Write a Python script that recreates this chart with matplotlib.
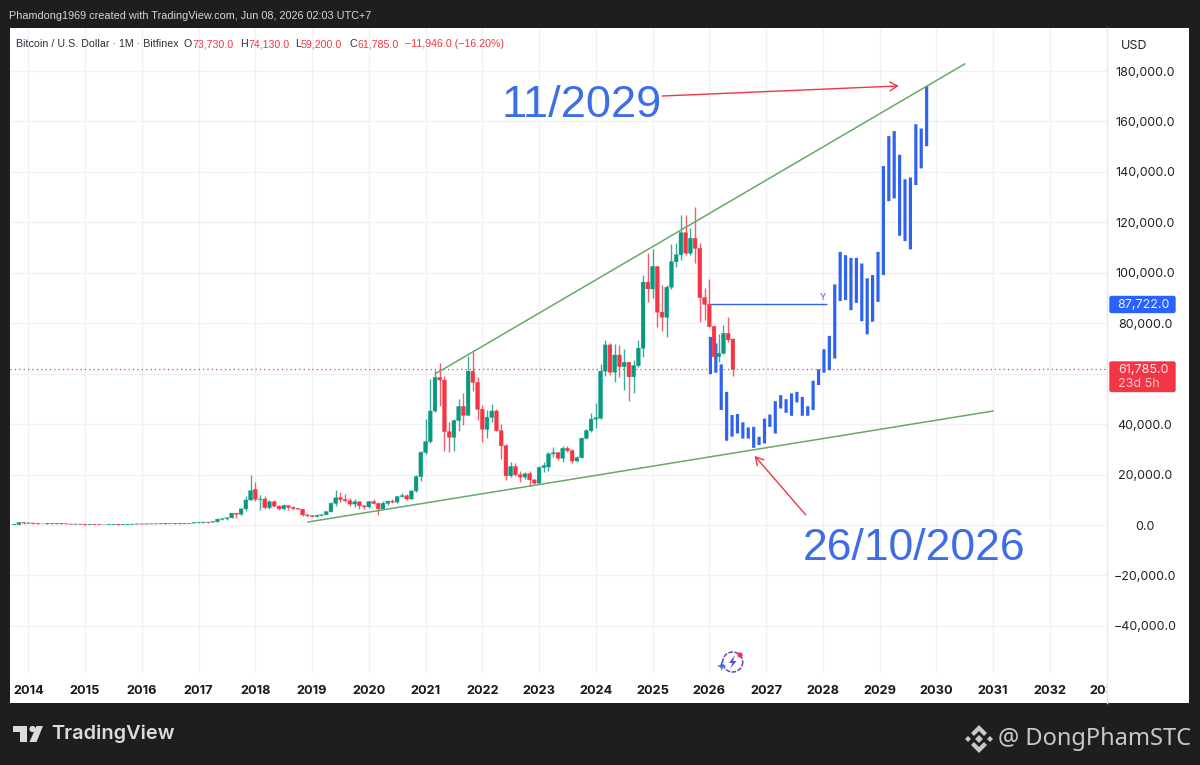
import numpy as np
import matplotlib
matplotlib.use('Agg')
import matplotlib.pyplot as plt
from matplotlib.patches import Rectangle, Polygon, Circle, FancyBboxPatch, Arc
from matplotlib.ticker import FuncFormatter
from matplotlib.transforms import Bbox

plt.rcParams['font.family'] = ['Inter', 'DejaVu Sans']

# monthly candles in thousands of USD, first one is Oct 2013
opens = [0.13, 0.2, 1.0,
    0.75, 0.8, 0.55, 0.45, 0.45, 0.63, 0.64, 0.59, 0.48, 0.39, 0.34, 0.38,
    0.32, 0.22, 0.25, 0.24, 0.23, 0.23, 0.26, 0.28, 0.23, 0.24, 0.31, 0.38,
    0.43, 0.37, 0.44, 0.42, 0.45, 0.53, 0.67, 0.62, 0.57, 0.61, 0.70, 0.74,
    0.96, 0.97, 1.19, 1.08, 1.35, 2.3, 2.5, 2.87, 4.7, 4.3, 6.4, 9.9,
    14.1, 10.2, 10.3, 6.9, 9.2, 7.5, 6.4, 7.7, 7.0, 6.6, 6.3, 4.0,
    3.7, 3.4, 3.8, 4.1, 5.3, 8.6, 10.8, 10.1, 9.6, 8.3, 9.2, 7.6,
    7.2, 9.3, 8.5, 6.4, 8.6, 9.4, 9.1, 11.3, 11.6, 10.3, 13.5, 19.2,
    28.8, 33.1, 45.2, 58.5, 57.5, 37, 34.8, 41.4, 47, 43.5, 61, 56.6,
    45.9, 38, 42.7, 45.2, 37.4, 31.4, 19.5, 23.2, 19.9, 19, 20.3, 17.9,
    16.6, 22.8, 23, 28.2, 28.7, 26.5, 30.4, 29.5, 25.4, 26.7, 34.4, 37.4,
    42, 42.3, 61, 71.4, 60.6, 67.4, 62.8, 64.5, 58.8, 63.2, 70.1, 96.3,
    93.6, 102.5, 84.4, 82.4, 94.3, 104.4, 107.1, 115.9, 107.8, 113.7, 109.7, 90.2,
    87.5, 78.7, 66.8, 68.1, 76, 73.7]
highs = [0.2, 1.2, 1.2,
    1.0, 0.85, 0.7, 0.55, 0.65, 0.68, 0.66, 0.6, 0.49, 0.42, 0.45, 0.39,
    0.33, 0.26, 0.3, 0.26, 0.25, 0.27, 0.32, 0.29, 0.24, 0.33, 0.5, 0.47,
    0.46, 0.44, 0.45, 0.47, 0.55, 0.78, 0.7, 0.62, 0.62, 0.73, 0.75, 0.98,
    1.15, 1.2, 1.3, 1.35, 2.7, 2.95, 2.9, 4.9, 4.95, 6.4, 11.5, 19.7,
    17.2, 11.8, 11.7, 9.8, 10, 7.8, 8.4, 7.4, 7.4, 6.9, 6.5, 4.2,
    4.1, 4.2, 4.1, 5.6, 9.0, 13.8, 12.9, 12.3, 10.9, 10.4, 9.5, 7.8,
    9.6, 10.5, 9.2, 9.5, 10.1, 10.4, 11.4, 12.5, 12.1, 14.0, 19.9, 29.3,
    42, 58, 61.5, 64.4, 59, 41, 42, 50, 52.5, 67, 68.5, 58.8,
    47.5, 45.6, 47.9, 46, 40, 32, 25, 24.5, 21.6, 21, 21.4, 18.3,
    23.3, 25, 28.9, 30.8, 29, 31.4, 31.4, 30.2, 27.5, 35, 38, 44.3,
    48.5, 64, 73.4, 72, 71.8, 71.4, 69.8, 64.8, 65.5, 73.4, 99.2, 107.8,
    109.3, 102.5, 95, 95, 111.3, 111.7, 123, 123, 117.7, 126, 111.7, 93.9,
    97.6, 79.3, 75.8, 79.3, 82.6, 74.13]
lows = [0.12, 0.2, 0.4,
    0.72, 0.5, 0.4, 0.34, 0.42, 0.53, 0.56, 0.45, 0.36, 0.28, 0.32, 0.3,
    0.17, 0.21, 0.23, 0.21, 0.22, 0.22, 0.26, 0.2, 0.22, 0.24, 0.3, 0.35,
    0.35, 0.37, 0.39, 0.41, 0.44, 0.52, 0.6, 0.48, 0.57, 0.6, 0.69, 0.74,
    0.75, 0.92, 0.89, 1.06, 1.35, 2.1, 1.85, 2.7, 2.97, 4.1, 5.5, 9.9,
    9.4, 6.0, 6.5, 6.4, 7.0, 5.8, 6.1, 5.9, 6.1, 6.2, 3.5, 3.2,
    3.3, 3.3, 3.7, 4.1, 5.3, 7.5, 9.1, 9.3, 7.7, 7.3, 6.5, 6.4,
    6.9, 8.4, 3.8, 6.2, 8.1, 8.9, 8.9, 11.0, 9.9, 10.4, 13.2, 17.6,
    28, 32.5, 45, 47.2, 29.5, 29, 29.5, 37.4, 39.7, 43.5, 53, 41.7,
    33, 34.4, 41, 37.4, 26, 17.9, 19, 19.3, 17.2, 18.3, 15.5, 16.3,
    16.5, 21, 21.6, 27, 25.8, 25.1, 29, 24.5, 24.9, 26.6, 34, 37,
    38.4, 42, 59, 59.5, 56.9, 58.8, 53.6, 49.2, 52.5, 62.8, 66.8, 88.6,
    89.9, 78.4, 77, 74.7, 93.5, 102.5, 105, 107, 107, 103.8, 80.6, 81.3,
    78.4, 66.1, 64.8, 68, 72.7, 59.2]
closes = [0.2, 1.0, 0.75,
    0.8, 0.55, 0.45, 0.45, 0.63, 0.64, 0.59, 0.48, 0.39, 0.34, 0.38, 0.32,
    0.22, 0.25, 0.24, 0.23, 0.23, 0.26, 0.28, 0.23, 0.24, 0.31, 0.38, 0.43,
    0.37, 0.44, 0.42, 0.45, 0.53, 0.67, 0.62, 0.57, 0.61, 0.70, 0.74, 0.96,
    0.97, 1.19, 1.08, 1.35, 2.3, 2.5, 2.87, 4.7, 4.3, 6.4, 9.9, 13.6,
    10.2, 10.3, 6.9, 9.2, 7.5, 6.4, 7.7, 7.0, 6.6, 6.3, 4.0, 3.7,
    3.4, 3.8, 4.1, 5.3, 8.6, 10.8, 10.1, 9.6, 8.3, 9.2, 7.6, 7.2,
    9.3, 8.5, 6.4, 8.6, 9.4, 9.1, 11.3, 11.6, 10.3, 13.5, 19.2, 28.8,
    33.1, 45.2, 58.5, 57.5, 37, 34.8, 41.4, 47, 43.5, 61, 56.6, 45.9,
    38, 42.7, 45.2, 37.4, 31.4, 19.5, 23.2, 19.9, 19, 20.3, 17.9, 16.6,
    22.8, 23.5, 28.2, 28.7, 26.5, 30.4, 29.5, 25.4, 26.7, 34.4, 37.4, 42,
    42.5, 61, 71.4, 60.6, 67.4, 62.8, 64.5, 58.8, 63.2, 70.1, 96.3, 93.6,
    102.5, 84.4, 82.4, 94.3, 104.4, 107.1, 115.9, 107.8, 113.7, 109.7, 90.2, 87.5,
    78.7, 66.8, 68.1, 76, 73.4, 61.785]

# the blue drawn projection, 41 bars from Jan 2026 to Nov 2029
proj_tops = [74.6, 72, 63.7, 52.8, 43.6, 44, 40.7, 38.7, 38.9, 35, 42.2, 43.8, 49.1, 51.5,
    49.9, 52.2, 52.8, 50.8, 47.1, 57.2, 61.7, 69.7, 75, 95.4, 108.3, 107, 105.9, 105.9,
    103.7, 97.8, 99.1, 108.3, 142.3, 154.2, 156.2, 146.8, 137.1, 137.8, 158.9, 157.2, 174]
proj_bottoms = [59.8, 60.4, 45.6, 33.4, 35, 36.3, 34.3, 34.3, 30.6, 31.7, 32.3, 38.9, 36.3, 46.2,
    44.5, 43.3, 48.6, 43.3, 43.3, 45.6, 55.5, 60.4, 61.4, 66, 88.8, 89.2, 85.2, 88.1,
    80.8, 75.6, 80.6, 88.5, 99.1, 128.4, 129.5, 114.7, 112.6, 109.3, 134.8, 141.4, 150.2]

years = list(range(2014, 2034))
price_ticks = list(range(-40, 181, 20))
last_price = 61.785
target_price = 87.722

GREEN = '#089981'
RED = '#f23645'
BLUE = '#2f62ee'
LINE_GREEN = '#68a868'
DARK = '#1e1e1e'
HEAD_FONT = 'Liberation Sans'

W, H = 1200, 765
fig = plt.figure(figsize=(W / 100, H / 100), dpi=100, facecolor=DARK)

# white panel behind everything
back = fig.add_axes([0, 0, 1, 1], zorder=0)
back.set_xlim(0, W)
back.set_ylim(H, 0)
back.axis('off')
back.add_patch(Rectangle((10, 28), 1179, 675, fc='white', ec='none'))

ax = fig.add_axes([10 / W, (H - 673) / H, 1097 / W, 645 / H], zorder=1)
ax.set_xlim(2013.678, 2033.008)
ax.set_ylim(-58.68, 197.07)
for s in ax.spines.values():
    s.set_visible(False)

ax.set_xticks(years)
ax.set_yticks(price_ticks)
ax.yaxis.tick_right()
ax.grid(True, color='#f0f1f4', lw=1)
ax.set_axisbelow(True)


def price_fmt(v, pos):
    if round(v) == 60:
        return ''  # hidden behind the last price tag
    return f'{v * 1000:,.1f}'.replace('-', '\u2212')


ax.yaxis.set_major_formatter(FuncFormatter(price_fmt))
ax.tick_params(axis='y', length=0, pad=27.4, labelsize=9, labelcolor='#1f2229')
ax.tick_params(axis='x', length=0, pad=8.5, labelsize=9.2, labelcolor='#17181c')
for lab in ax.get_yticklabels():
    lab.set_ha('center')
for lab in ax.get_xticklabels():
    lab.set_fontweight('bold')
    # last year label is cut by the price scale
    lab.set_clip_on(True)
    lab.set_clip_box(Bbox([[0, 0], [1107, H]]))

# candles
x = 2013.75 + np.arange(len(closes)) / 12
o = np.array(opens)
c = np.array(closes)
cols = np.where(c >= o, GREEN, RED)
ax.vlines(x, lows, highs, colors=cols, lw=1, alpha=0.8, zorder=4)
ax.bar(x, np.abs(c - o), bottom=np.minimum(o, c), width=0.066, color=cols,
       edgecolor=cols, linewidth=0.3, snap=False, zorder=4.1)

# projection
px = np.linspace(2026.02, 2029.83, len(proj_tops))
pt = np.array(proj_tops)
pb = np.array(proj_bottoms)
ax.bar(px, pt - pb, bottom=pb, width=0.056, color=BLUE, linewidth=0, snap=False, zorder=3)

# last price, target line
ax.axhline(last_price, color=RED, lw=0.9, ls=(0, (1, 2.5)), zorder=2)
ax.hlines(target_price, 2026.01, 2028.07, color=BLUE, lw=1, zorder=3)
ax.text(2028.0, target_price + 0.6, 'Y', color=BLUE, fontsize=6.5, ha='center', va='bottom')

# trend lines
ax.plot([2021.2, 2030.5], [60.3, 182.8], color=LINE_GREEN, lw=1.1, zorder=5)
ax.plot([2018.93, 2031.0], [1.2, 45.2], color=LINE_GREEN, lw=1.1, zorder=5)

# arrows and dates
arrow = dict(arrowstyle='->,head_length=0.55,head_width=0.32', color=RED, lw=1, shrinkA=0, shrinkB=0)
ax.annotate('', xy=(2029.34, 174.1), xytext=(2025.17, 170.1), arrowprops=arrow, zorder=6)
ax.annotate('', xy=(2026.80, 27.4), xytext=(2027.70, 4.0), arrowprops=arrow, zorder=6)
ax.text(2022.33, 166.2, '11/2029', color='#3d6ee8', fontsize=32.6, family=HEAD_FONT, va='center', ha='left')
ax.text(2027.65, -9.4, '26/10/2026', color='#3d6ee8', fontsize=32, family=HEAD_FONT, va='center', ha='left')

# everything around the plot, in pixels
top = fig.add_axes([0, 0, 1, 1], zorder=2)
top.set_xlim(0, W)
top.set_ylim(H, 0)
top.axis('off')
top.patch.set_alpha(0)

top.plot([1107, 1107], [28, 703], color='#e9eaee', lw=1)
top.text(9, 16, 'Phamdong1969 created with TradingView.com, Jun 08, 2026 02:03 UTC+7',
         color='#d6d6d6', fontsize=7.8, family=HEAD_FONT, va='center', ha='left')
top.text(16, 44, 'Bitcoin / U.S. Dollar \u00b7 1M \u00b7 Bitfinex', color='#2a2e39', fontsize=7.7, family=HEAD_FONT, va='center')
legend_parts = [(184, 'O', '#2a2e39'), (192, '73,730.0', RED), (240, 'H', '#2a2e39'), (248, '74,130.0', RED),
                (295, 'L', '#2a2e39'), (301, '59,200.0', RED), (350, 'C', '#2a2e39'), (358, '61,785.0', RED),
                (405, '\u221211,946.0 (\u221216.20%)', RED)]
for px_left, txt, col in legend_parts:
    top.text(px_left, 44, txt, color=col, fontsize=7.7, family=HEAD_FONT, va='center')
top.text(1134, 46, 'USD', color='#1f2229', fontsize=9, va='center', ha='center')

# price tags
top.add_patch(FancyBboxPatch((1110, 296.5), 65, 16, boxstyle='round,pad=0,rounding_size=1.5', fc='#2962ff', ec='#2962ff', lw=1))
top.text(1143.5, 304.5, '{:,.1f}'.format(target_price * 1000), color='#e8eeff', fontsize=9, va='center', ha='center')
top.add_patch(FancyBboxPatch((1110, 362), 65, 29.5, boxstyle='round,pad=0,rounding_size=1.5', fc=RED, ec=RED, lw=1))
top.text(1143.5, 369.5, '{:,.1f}'.format(last_price * 1000), color='#ffe9eb', fontsize=9, va='center', ha='center')
top.text(1118, 384, '23d 5h', color='#fbc3c8', fontsize=9, va='center', ha='left')

# small spark icon above the time scale
top.add_patch(Arc((732.7, 662), 20, 20, theta1=0, theta2=360, color='#6a3fb5', lw=1.1, ls=(0, (3, 1))))
top.add_patch(Polygon([(735, 655), (729, 663), (732.5, 663), (730, 669), (736.5, 661), (733, 661)], fc='#5b4bc4', ec='none'))
top.add_patch(Circle((740, 655), 2.6, fc=RED, ec='none'))
top.add_patch(Polygon([(721.7, 661), (723, 664.8), (726.5, 666), (723, 667.2), (721.7, 671), (720.4, 667.2), (717, 666), (720.4, 664.8)], fc='#3f6fe0', ec='none'))

# TradingView logo
LOGO = '#dcdcdc'
top.add_patch(Polygon([(13, 726), (27, 726), (27, 742), (20, 742), (20, 732), (13, 732)], fc=LOGO, ec='none'))
top.add_patch(Circle((32.5, 729), 3.1, fc=LOGO, ec='none'))
top.add_patch(Polygon([(36.5, 726), (43, 726), (36.5, 742), (29.5, 742)], fc=LOGO, ec='none'))
top.text(51, 734, 'TradingView', color=LOGO, fontsize=14.4, fontweight='semibold', va='center', ha='left')

# Binance mark and handle
bx, by = 979, 739
shapes = [[(0, -4), (4, 0), (0, 4), (-4, 0)],
          [(-11, -3), (-8, 0), (-11, 3), (-14, 0)],
          [(11, -3), (14, 0), (11, 3), (8, 0)],
          [(0, -14), (8, -6), (5, -3), (0, -8), (-5, -3), (-8, -6)],
          [(0, 14), (8, 6), (5, 3), (0, 8), (-5, 3), (-8, 6)]]
for shape in shapes:
    top.add_patch(Polygon([(bx + a, by + b) for a, b in shape], fc='#c9c9c9', ec='none'))
top.text(998, 739, '@ DongPhamSTC', color='#c9c9c9', fontsize=17, family='Noto Sans', va='center', ha='left')

fig.savefig('out.png', dpi=100, facecolor=DARK)
